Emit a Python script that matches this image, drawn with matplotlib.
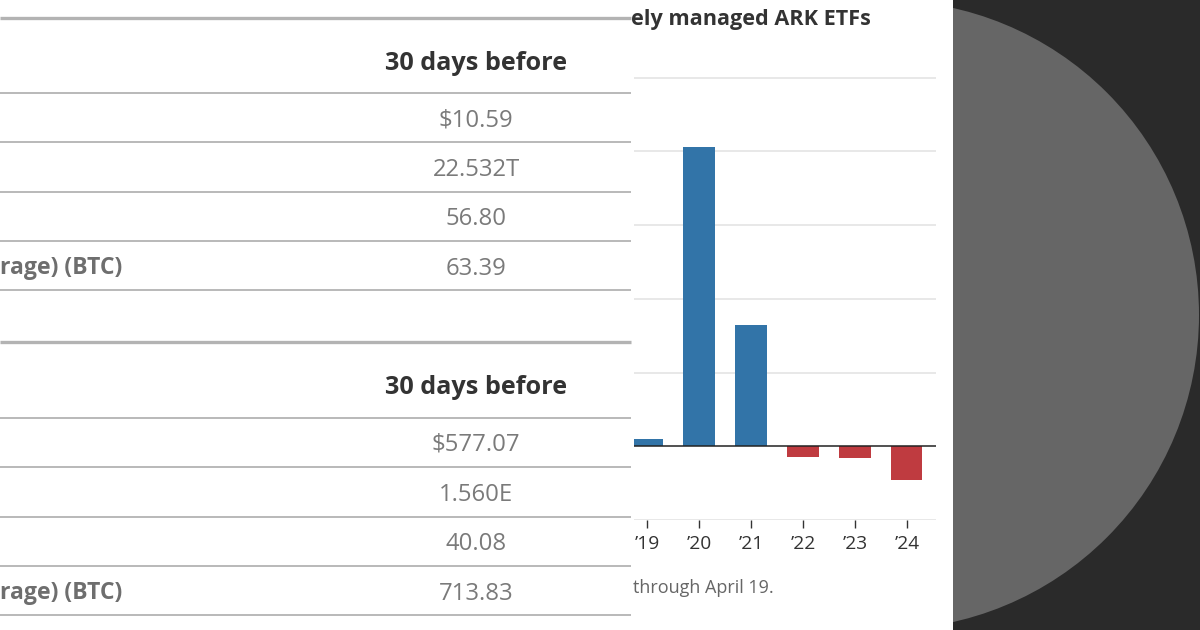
import matplotlib
matplotlib.use('Agg')
import matplotlib.pyplot as plt
from matplotlib.patches import Circle, Rectangle

plt.rcParams['font.family'] = ['Open Sans', 'DejaVu Sans']

# table text
header = '30 days before'
row_label = 'rage) (BTC)'
table_top = ['$10.59', '22.532T', '56.80', '63.39']
table_bottom = ['$577.07', '1.560E', '40.08', '713.83']

# chart values, in gridline units
years = ['\u201919', '\u201920', '\u201921', '\u201922', '\u201923', '\u201924']
flows = [0.10, 4.06, 1.64, -0.14, -0.16, -0.46]
grid_levels = [-1, 1, 2, 3, 4, 5]

BLUE = '#3274a8'
RED = '#bf3b40'

fig = plt.figure(figsize=(12, 6.3), dpi=100, facecolor='#2a2a2a')

# whole figure axes in pixels for the page furniture
page = fig.add_axes([0, 0, 1, 1])
page.set_xlim(0, 1200)
page.set_ylim(630, 0)
page.axis('off')

page.add_patch(Rectangle((0, 0), 953, 630, color='white', lw=0, zorder=1))
disc = Circle((884.4, 315), 314.6, color='#666666', lw=0, zorder=2)
page.add_patch(disc)
disc.set_clip_path(Rectangle((953, 0), 247, 630, transform=page.transData))

# table rules
for y in [18, 342]:
    page.plot([0, 631], [y, y], color='#b3b3b3', lw=2.4, solid_capstyle='butt', zorder=3)
for y in [93, 142, 192, 241, 290, 418, 467, 517, 566, 615]:
    page.plot([0, 631], [y, y], color='#b3b3b3', lw=1.3, solid_capstyle='butt', zorder=3)

# table text
for y in [63, 387]:
    page.text(476, y, header, ha='center', va='center', fontsize=18.2,
              fontweight='bold', color='#333333', zorder=4)
for y, val in zip([120, 170, 219, 269], table_top):
    page.text(476, y, val, ha='center', va='center', fontsize=17.2, color='#7a7a7a', zorder=4)
for y, val in zip([445, 495, 544, 594], table_bottom):
    page.text(476, y, val, ha='center', va='center', fontsize=17.2, color='#7a7a7a', zorder=4)
for y in [268, 593]:
    page.text(122, y, row_label, ha='right', va='center', fontsize=16.6,
              fontweight='bold', color='#6e6e6e', zorder=4)

# chart title and note are cut off at the left edge of the panel
clip = Rectangle((634, 0), 319, 630, transform=page.transData)
title = page.text(871, 19, 'ely managed ARK ETFs', ha='right', va='center', fontsize=15.6,
                  fontweight='bold', color='#333333', zorder=4)
title.set_clip_path(clip)
note = page.text(633, 588, 'through April 19.', ha='left', va='center', fontsize=13,
                 color='#666666', zorder=4)
note.set_clip_path(clip)

# bar chart, 634..936 px wide and 77..520 px tall
ax = fig.add_axes([634 / 1200, 1 - 520 / 630, 302 / 1200, 443 / 630], zorder=5)
ax.patch.set_alpha(0)
ax.set_xlim(-0.25, 5.56)
ax.set_ylim(-1, 5.01)
for s in ax.spines.values():
    s.set_visible(False)

for lev in grid_levels:
    ax.axhline(lev, color='#e6e6e6', lw=1.3, zorder=1)

x_pos = list(range(len(years)))
colors = [BLUE if v > 0 else RED for v in flows]
ax.bar(x_pos, flows, width=0.6, color=colors, zorder=2)
ax.axhline(0, color='#222222', lw=1.1, zorder=3)

ax.set_yticks([])
ax.set_xticks(x_pos)
ax.set_xticklabels(years, fontsize=13.8, color='#333333')
ax.tick_params(axis='x', direction='out', length=5.5, width=1, color='#333333', pad=5.5)

fig.savefig('out.png', dpi=100, facecolor=fig.get_facecolor())
